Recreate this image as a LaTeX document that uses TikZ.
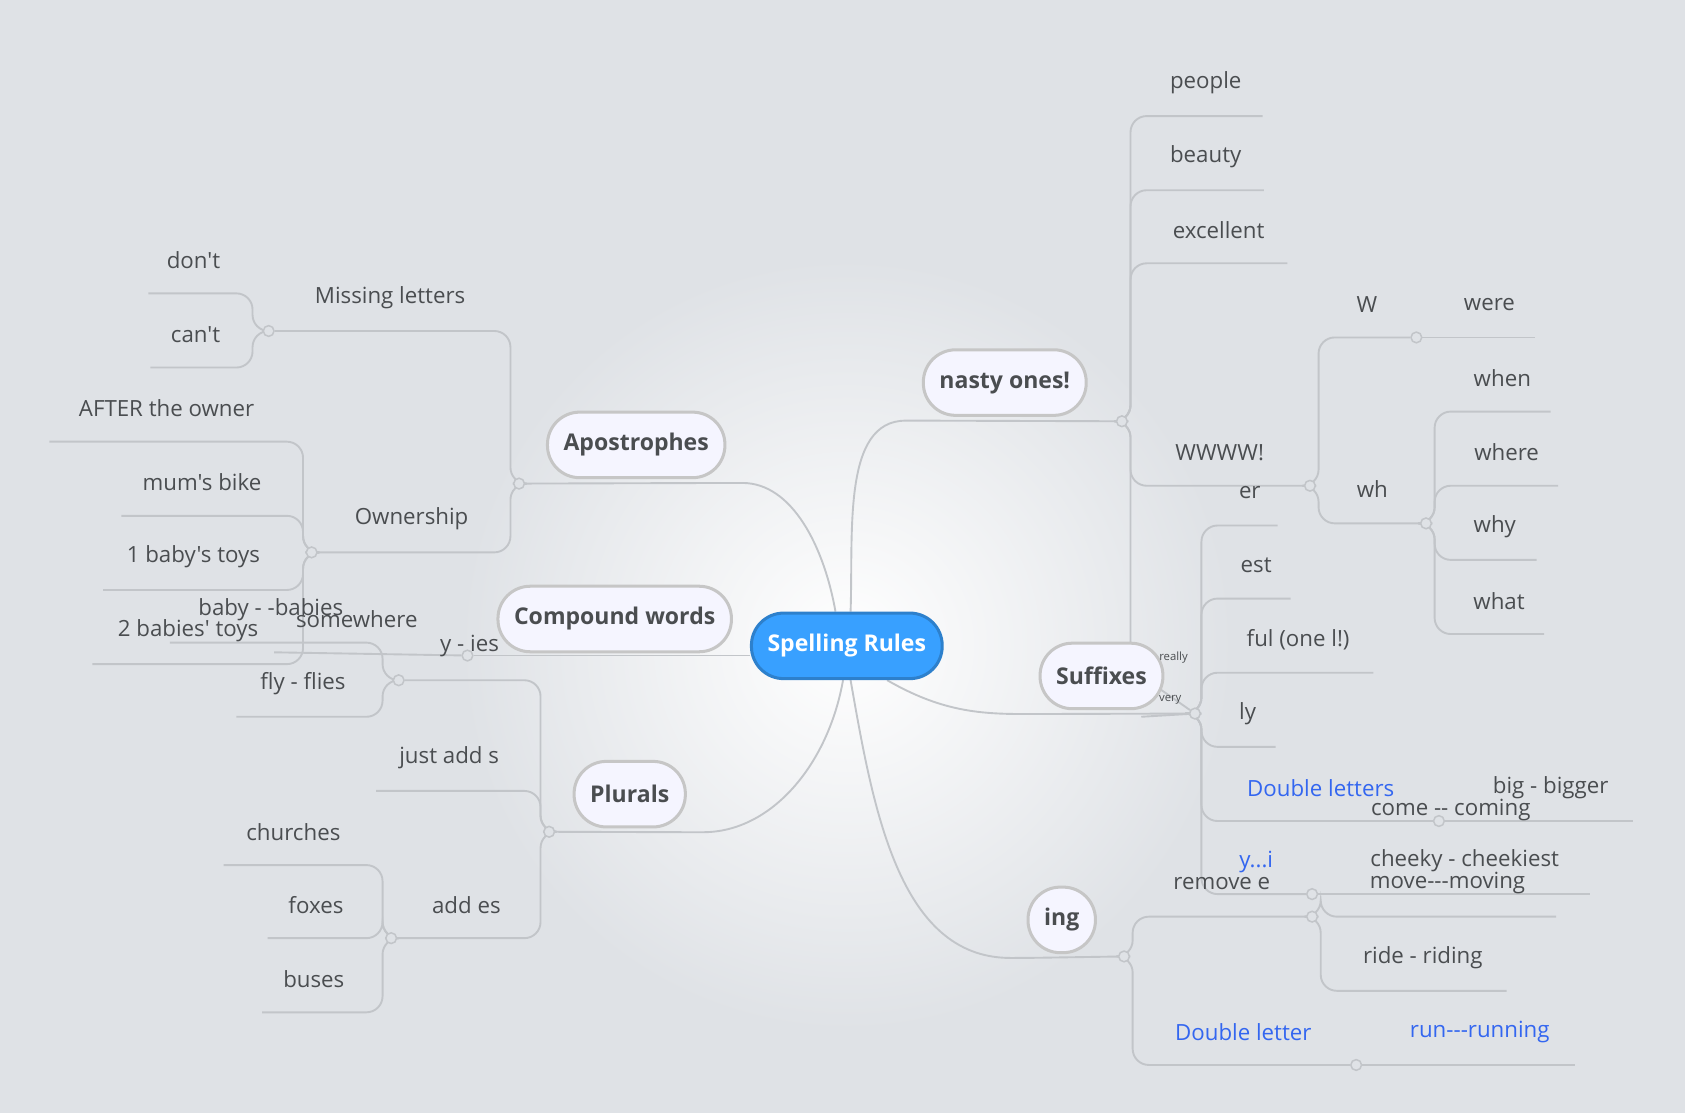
\documentclass[tikz,border=0pt]{standalone}
\usepackage{fontspec}
\setmainfont{Open Sans}[Ligatures=TeXOff]
\usepackage{tikz}
\usetikzlibrary{positioning}

\definecolor{bgc}{HTML}{DFE2E6}
\definecolor{twigc}{HTML}{C2C5C9}
\definecolor{txtc}{HTML}{4A4D50}
\definecolor{linkblue}{HTML}{3366F0}
\definecolor{rootblue}{HTML}{38A0FF}

\pgfdeclarelayer{back}
\pgfdeclarelayer{lines}
\pgfsetlayers{back,lines,main}

\tikzset{
  leaf/.style={text=txtc, font=\fontsize{11.8}{13}\selectfont, inner sep=1pt},
  topic/.style={draw=gray!45, line width=1.6pt, fill=white!96!blue, rounded corners=0.6cm,
    minimum height=1.22cm, inner xsep=0.3cm, text=txtc, font=\fontsize{12.2}{14}\selectfont\bfseries},
  root/.style={topic, draw=rootblue!80!black, fill=rootblue, text=white},
  knot/.style={circle, draw=twigc, fill=bgc, line width=0.8pt, inner sep=0pt, minimum size=0.2cm},
  twig/.style={draw=twigc, line width=1pt, rounded corners=0.3cm},
  tiny/.style={text=txtc, font=\fontsize{6}{7}\selectfont, inner sep=1pt}
}

% leaf with its underline end
\newcommand\leafnode[5]{\node[leaf] (#1) at (#2,#3) {#4}; \coordinate (#1-e) at ({#5},{#3+31});}
\newcommand\twig[3]{\draw[twig] (#1) -- ++(#3,0) |- (#2);}

\begin{document}
\begin{tikzpicture}[x=0.02cm, y=-0.02cm]
	\useasboundingbox (0,0) rectangle (1568,1036);
	\begin{pgfonlayer}{back}
		\fill[bgc] (0,0) rectangle (1568,1036);
		\shade[inner color=white, outer color=bgc] (788,600) circle (360);
	\end{pgfonlayer}

	% topics
	\node[root] (sr) at (788,601) {Spelling Rules};
	\node[topic] (nasty) at (935,356) {nasty ones!};
	\node[topic] (apo) at (592,414) {Apostrophes};
	\node[topic] (comp) at (572,576) {Compound words};
	\node[topic] (plu) at (586,739) {Plurals};
	\node[topic] (suf) at (1025,629) {Suffixes};
	\node[topic] (ing) at (988,856) {ing};

	% junctions
	\node[knot] (nj) at (1044,392) {};
	\node[knot] (aj) at (483,450) {};
	\node[knot] (cj) at (435,610) {};
	\node[knot] (pj) at (511,774) {};
	\node[knot] (sj) at (1112,664) {};
	\node[knot] (ij) at (1046,890) {};
	\node[knot] (mlj) at (250,308) {};
	\node[knot] (owj) at (290,514) {};
	\node[knot] (yj) at (371,633) {};
	\node[knot] (esj) at (364,873) {};
	\node[knot] (wwj) at (1219,452) {};
	\node[knot] (wj) at (1318,314) {};
	\node[knot] (whj) at (1327,487) {};
	\node[knot] (dlj) at (1339,764) {};
	\node[knot] (yij) at (1221,832) {};
	\node[knot] (rej) at (1221,853) {};
	\node[knot] (drj) at (1262,991) {};

	% branch labels
	\node[leaf] (ml) at (363,277) {Missing letters};
	\node[leaf] (ow) at (383,483) {Ownership};
	\node[leaf] (yies) at (437,601) {y - ies};
	\node[leaf] (es) at (434,842) {add es};
	\node[leaf] (ww) at (1135,421) {WWWW!};
	\node[leaf] (w) at (1272,283) {W};
	\node[leaf] (wh) at (1277,455) {wh};
	\node[leaf, text=linkblue] (dl) at (1229,733) {Double letters};
	\node[leaf, text=linkblue] (yi) at (1169,802) {y...i};
	\node[leaf] (re) at (1137,822) {remove e};
	\node[leaf, text=linkblue] (dr) at (1157,960) {Double letter};
	\node[tiny] (really) at (1092,612) {really};
	\node[tiny] (very) at (1089,651) {very};
	\coordinate (really-e) at (1062,629);
	\coordinate (very-e) at (1062,667);
	\coordinate (nj-e) at (1052,598);

	% leaves
	\leafnode{dont}{180}{242}{don't}{138}
	\leafnode{cant}{182}{311}{can't}{140}
	\leafnode{after}{155}{380}{AFTER the owner}{46}
	\leafnode{mum}{188}{449}{mum's bike}{113}
	\leafnode{baby}{180}{518}{1 baby's toys}{96}
	\leafnode{babies}{175}{587}{2 babies' toys}{86}
	\leafnode{some}{332}{576}{somewhere}{255}
	\leafnode{bb}{252}{567}{baby - -babies}{158}
	\leafnode{fly}{282}{636}{fly - flies}{220}
	\leafnode{adds}{418}{705}{just add s}{350}
	\leafnode{church}{273}{774}{churches}{208}
	\leafnode{fox}{294}{842}{foxes}{249}
	\leafnode{bus}{292}{911}{buses}{244}
	\leafnode{people}{1122}{77}{people}{1175}
	\leafnode{beauty}{1122}{146}{beauty}{1176}
	\leafnode{exc}{1134}{214}{excellent}{1198}
	\leafnode{were}{1386}{283}{were}{1428}
	\leafnode{when}{1398}{352}{when}{1443}
	\leafnode{where}{1402}{421}{where}{1450}
	\leafnode{why}{1391}{490}{why}{1430}
	\leafnode{what}{1395}{559}{what}{1437}
	\leafnode{er}{1163}{458}{er}{1189}
	\leafnode{est}{1169}{526}{est}{1201}
	\leafnode{ful}{1208}{595}{ful (one l!)}{1278}
	\leafnode{ly}{1161}{664}{ly}{1187}
	\leafnode{big}{1443}{733}{big - bigger}{1520}
	\node[leaf] (come) at (1350,754) {come -- coming};
	\leafnode{cheeky}{1363}{801}{cheeky - cheekiest}{1480}
	\leafnode{move}{1347}{822}{move---moving}{1448}
	\leafnode{ride}{1324}{891}{ride - riding}{1402}
	\node[leaf, text=linkblue] (run) at (1377,960) {run---running};
	\coordinate (run-e) at (1466,991);

	\begin{pgfonlayer}{lines}
		% main connectors
		\draw[twig] ([xshift=2pt]sr.north) to[out=88,in=180] ([yshift=-2pt]nasty.south west) -- (nj);
		\draw[twig] ([xshift=-6pt]sr.north) to[out=100,in=0] ([yshift=-2pt]apo.south east) -- (aj);
		\draw[twig] (sr.west |- cj) -- (cj);
		\draw[twig] ([xshift=-2pt]sr.south) to[out=-100,in=0] ([yshift=-2pt]plu.south east) -- (pj);
		\draw[twig] ([xshift=-30pt]sr.south east) to[out=-30,in=180] ([yshift=-2pt]suf.south west) -- (sj);
		\draw[twig] ([xshift=2pt]sr.south) to[out=-80,in=180] ([yshift=-2pt]ing.south west) -- (ij);
		% left side
		\twig{aj}{mlj}{-8}
		\twig{aj}{owj}{-8}
		\foreach \c in {dont-e,cant-e} {\twig{mlj}{\c}{-15}}
		\foreach \c in {after-e,mum-e,baby-e,babies-e} {\twig{owj}{\c}{-8}}
		\draw[twig] (cj) -- (some-e);
		\twig{pj}{yj}{-8}
		\twig{pj}{adds-e}{-8}
		\twig{pj}{esj}{-8}
		\foreach \c in {bb-e,fly-e} {\twig{yj}{\c}{-15}}
		\foreach \c in {church-e,fox-e,bus-e} {\twig{esj}{\c}{-8}}
		% right side
		\foreach \c in {people-e,beauty-e,exc-e,wwj,nj-e} {\twig{nj}{\c}{8}}
		\twig{wwj}{wj}{8}
		\twig{wwj}{whj}{8}
		\draw[twig] (wj) -- (were-e);
		\foreach \c in {when-e,where-e,why-e,what-e} {\twig{whj}{\c}{8}}
		\foreach \c in {er-e,est-e,ful-e,ly-e,dlj,yij} {\twig{sj}{\c}{6}}
		\draw[twig] (sj) -- (really-e);
		\draw[twig] (sj) -- (very-e);
		\draw[twig] (dlj) -- (big-e);
		\draw[twig] (yij) -- (cheeky-e);
		\twig{ij}{rej}{8}
		\twig{ij}{drj}{8}
		\foreach \c in {move-e,ride-e} {\twig{rej}{\c}{8}}
		\draw[twig] (drj) -- (run-e);
	\end{pgfonlayer}
\end{tikzpicture}
\end{document}
